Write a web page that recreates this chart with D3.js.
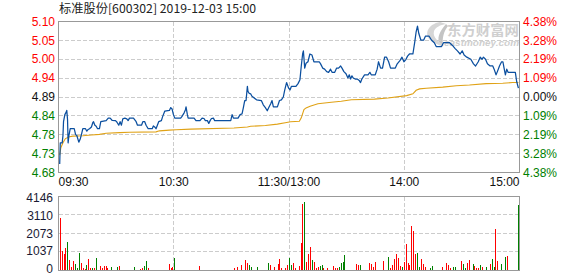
<!DOCTYPE html>
<html>
<head>
<meta charset="utf-8">
<script src="https://cdn.jsdelivr.net/npm/d3@7"></script>
<style>
  html, body { margin: 0; padding: 0; background: #fff; }
  svg { display: block; }
  text { font-family: "Liberation Sans", Arial, sans-serif; }
</style>
</head>
<body>
<svg width="578" height="276"></svg>
<script>
const svg_ = d3.select('svg');

const W = 578;
const H = 276;

// price panel / volume panel boxes
const P = { L: 58.5, R: 519.5, T: 21.5, B: 172.5 };
const V = { T: 196.5, B: 270.5 };

const TITLE = "标准股份[600302] 2019-12-03 15:00";

const prevClose = 4.89;
const pctMax = 4.38;

// tick rows, bottom to top
const priceTicks = ["4.68", "4.73", "4.78", "4.84", "4.89", "4.94", "5.00", "5.05", "5.10"];
const pctTicks = ["4.38%", "3.28%", "2.19%", "1.09%", "0.00%", "1.09%", "2.19%", "3.28%", "4.38%"];
const volTicks = [0, 1037, 2073, 3110, 4146];

const timeLabels = ["09:30", "10:30", "11:30/13:00", "14:00", "15:00"];
const timeIdx = [0, 60, 120, 180, 240];

// [minute index, price]
const priceLine = [
  [0,4.70],[0.3,4.76],[1.3,4.76],[1.7,4.78],[2,4.82],[2.7,4.84],[3.4,4.847],[3.7,4.852],[4.1,4.826],[4.4,4.76],
  [4.8,4.78],[5.5,4.80],[7.6,4.80],[8.3,4.784],[9,4.78],[10,4.762],[10.7,4.77],[11.4,4.784],[12.1,4.80],[13.5,4.80],
  [14.2,4.793],[14.9,4.798],[15.6,4.80],[16.6,4.805],[17.3,4.817],[17.7,4.82],[18.4,4.81],[19.1,4.807],[19.8,4.80],[20.8,4.80],
  [21.5,4.82],[24.3,4.823],[25.4,4.83],[26.4,4.83],[27.4,4.824],[29.2,4.823],[29.9,4.819],[30.9,4.81],[31.6,4.82],[32.3,4.81],
  [33,4.828],[34.1,4.83],[35.1,4.828],[35.8,4.823],[36.5,4.83],[38.6,4.83],[40,4.82],[40.7,4.81],[42.8,4.81],[43.5,4.82],
  [44.5,4.82],[45.2,4.81],[46.3,4.80],[48.4,4.80],[49,4.808],[49.7,4.805],[50.4,4.80],[51.1,4.81],[51.8,4.82],[53.2,4.823],
  [53.9,4.835],[55,4.85],[57.4,4.852],[58.1,4.86],[58.8,4.856],[59.5,4.84],[60.2,4.83],[63.3,4.83],[64,4.835],[65.1,4.845],
  [65.8,4.854],[66.1,4.862],[66.8,4.84],[67.2,4.83],[70.3,4.83],[71.3,4.823],[73.4,4.823],[74.5,4.83],[75.5,4.829],[76.2,4.823],
  [77.3,4.823],[78,4.815],[78.7,4.823],[79.4,4.829],[80.4,4.83],[81.1,4.823],[89.5,4.823],[90.2,4.84],[90.9,4.83],[93.3,4.83],
  [94.4,4.84],[95.4,4.842],[96.1,4.86],[96.8,4.88],[97.5,4.88],[98.2,4.92],[98.5,4.906],[99.2,4.90],[99.9,4.899],[100.6,4.892],
  [103,4.882],[105.5,4.88],[106.5,4.868],[107.6,4.86],[108.6,4.851],[109.4,4.86],[110.4,4.871],[111.1,4.88],[111.8,4.862],[113.9,4.862],
  [115,4.88],[116,4.882],[117,4.89],[117.7,4.909],[118.7,4.931],[119.8,4.915],[120.5,4.91],[121.2,4.92],[123.6,4.92],[124.7,4.928],
  [125.7,4.939],[126.4,4.978],[127.1,5.012],[127.5,5.021],[128.2,4.972],[128.9,4.986],[129.9,4.99],[130.9,5.012],[132,5.009],[133,4.99],
  [135.8,4.99],[136.5,4.984],[137.6,4.972],[138.6,4.969],[139.7,4.962],[140.7,4.96],[141.7,4.969],[142.5,4.96],[143.9,4.96],[144.9,4.972],
  [145.9,4.972],[147,4.978],[147.7,4.972],[148.7,4.962],[149.8,4.956],[150.8,4.944],[151.5,4.953],[152.2,4.941],[152.9,4.95],[153.6,4.944],
  [154.6,4.941],[155.7,4.941],[156.7,4.937],[157.4,4.931],[158.1,4.941],[159.5,4.953],[161.3,4.953],[162.3,4.96],[163,4.953],[165.1,4.953],
  [166.1,4.969],[166.8,4.99],[167.9,4.972],[168.9,4.972],[170,5.003],[171,5.003],[172.1,4.99],[173.1,4.972],[175.6,4.972],[176.6,4.984],
  [178,4.993],[179.1,5.003],[180.1,4.99],[181.2,4.997],[182,5.006],[183,5.012],[184.8,5.012],[185.8,5.047],[186.5,5.075],[187.2,5.091],
  [187.9,5.07],[189,5.051],[190.4,5.051],[191.4,5.063],[193.2,5.063],[194.6,5.051],[196,5.044],[197,5.033],[199.8,5.033],[200.8,5.044],
  [204,5.044],[205.4,5.037],[206.8,5.028],[208.1,5.021],[209.5,5.012],[210.6,5.021],[211.6,5.009],[213,5.003],[215.1,4.997],[216.5,4.984],
  [217.6,4.978],[219,4.99],[220,5.003],[221,4.997],[221.7,5.003],[222.8,4.997],[223.8,4.984],[225.2,4.978],[226.6,4.978],[227.3,4.969],
  [228.3,4.953],[229,4.962],[230.1,4.978],[231.2,4.99],[231.9,4.99],[232.5,4.972],[233.2,4.953],[233.9,4.969],[234.6,4.96],[238.4,4.96],
  [239.1,4.934],[240,4.915]
];

// [minute index, average price]
const avgLine = [
  [0,4.725],[0.6,4.746],[1.7,4.76],[3,4.772],[5.1,4.777],[6.9,4.779],[12.1,4.78],[16.6,4.782],[20.8,4.784],[24.3,4.787],
  [31.3,4.789],[36.5,4.79],[50.4,4.791],[52.2,4.794],[57.4,4.796],[60.9,4.797],[68.6,4.799],[91.2,4.802],[98.2,4.805],[99.9,4.807],
  [107.6,4.809],[113.9,4.813],[118,4.817],[120.8,4.82],[125.4,4.821],[126.4,4.831],[127.8,4.854],[128.9,4.859],[131,4.864],[135.1,4.871],
  [142.1,4.875],[147.3,4.878],[152.6,4.882],[164.7,4.884],[171.7,4.887],[181.5,4.894],[184.8,4.899],[186.5,4.909],[188.3,4.913],[191.8,4.915],
  [200.4,4.918],[207.5,4.922],[214.4,4.924],[223.1,4.928],[231.8,4.929],[237,4.931],[240,4.931]
];

// volume per minute (lots), 09:30 .. 11:30 then 13:01 .. 15:00
const volAM = [
  2945, 1070, 920, 1257, 1595, 563, 188, 507, 338, 131,
  957, 394, 131, 94, 281, 619, 131, 131, 131, 675,
  56, 225, 131, 225, 225, 113, 0, 169, 56, 56,
  169, 225, 56, 0, 56, 56, 56, 56, 56, 169,
  56, 56, 75, 131, 225, 507, 113, 56, 56, 56,
  56, 56, 56, 56, 56, 56, 56, 338, 131, 188,
  694, 56, 0, 56, 56, 56, 56, 56, 56, 0,
  56, 56, 56, 244, 56, 56, 0, 56, 56, 56,
  56, 56, 56, 56, 56, 56, 56, 56, 0, 56,
  56, 113, 56, 188, 56, 281, 56, 563, 394, 281,
  169, 56, 0, 169, 56, 56, 56, 56, 56, 394,
  281, 56, 169, 56, 338, 619, 113, 56, 113, 281, 694
];
const dirAM =
  "rrrrgrrrgg" + "grrrgrrgrg" + "rrrrrrrgrr" + "grgggrrrrg" + "rrrrggrrrg" +
  "rrrrrrrrrr" + "gggrrrrggg" + "rrrrrrrgrr" + "grgrrrrrrr" + "rrrrrrrrrg" +
  "grrgrrgrgg" + "rrrgrrrrrrg";

const volPM = [
  281, 394, 113, 56, 225, 1538, 3715, 3827, 450, 900,
  1294, 563, 450, 113, 169, 225, 281, 113, 56, 113,
  56, 56, 225, 113, 113, 169, 394, 450, 844, 56,
  56, 56, 56, 0, 338, 281, 281, 56, 56, 56,
  56, 394, 338, 169, 450, 56, 56, 56, 507, 56,
  56, 732, 113, 281, 619, 900, 675, 225, 169, 450,
  1463, 394, 281, 2476, 2195, 900, 957, 169, 619, 338,
  169, 56, 56, 113, 225, 56, 0, 56, 56, 169,
  56, 394, 281, 113, 56, 169, 169, 56, 56, 507,
  338, 113, 394, 563, 56, 338, 225, 113, 113, 281,
  169, 56, 169, 56, 338, 619, 169, 2307, 507, 56,
  338, 56, 732, 788, 0, 0, 0, 0, 0, 3658
];
const dirPM =
  "grrrrrrgrr" + "rgrrrggrgr" + "grrrrggggg" + "grggrrgrrr" + "rrrrrgrrrg" +
  "rgrrrrrrgr" + "rrrrrrggrr" + "rrrgggrrrr" + "grrrgggrrr" + "ggrrggrrrg" +
  "rggrrggrrr" + "grgrgggggg";

const RED = "#ff0000";
const GREEN = "#008000";
const DARK = "#111";

const volume = volAM.concat(volPM);
const dirs = (dirAM + dirPM).split("");

// scales
const x = d3.scaleLinear().domain([0, 240]).range([59.7, 518.4]);
const gx = d3.scaleLinear().domain([0, 240]).range([P.L, P.R]);
const y = d3.scaleLinear()
  .domain([prevClose * (1 - pctMax / 100), prevClose * (1 + pctMax / 100)])
  .range([P.B, P.T]);
const row = d3.scaleLinear().domain([0, 8]).range([P.B, P.T]);
const yv = d3.scaleLinear().domain([0, 4146]).range([V.B, V.T]);
// volume labels sit a bit inside the panel
const vlab = d3.scaleLinear().domain([0, 4]).range([269, 198]);

const half = v => Math.round(v - 0.5) + 0.5;

svg_.append("rect").attr("width", W).attr("height", H).attr("fill", "#fff");

// title
svg_.append("text")
  .attr("x", 59).attr("y", 13)
  .attr("font-size", 12)
  .attr("fill", "#222")
  .style("font-family", '"Noto Sans CJK SC", sans-serif')
  .attr("textLength", 197)
  .attr("lengthAdjust", "spacingAndGlyphs")
  .text(TITLE);

// watermark
const wm = svg_.append("g").attr("fill", "#cfcfcf");
wm.append("path")
  .attr("d", "M440,22 C428,24 424,34 430,40 C433,43 438,44 441,46 L444,46 C440,42 432,38 434,31 C436,27 440,25 446,24 Z")
  .attr("fill", "#d6d6d6");
wm.append("path")
  .attr("d", "M446,24 C441,30 437,36 439,42 L443,45 C442,38 444,31 448,26 Z")
  .attr("fill", "#c4c4c4");
wm.append("text")
  .attr("x", 447).attr("y", 35)
  .attr("font-size", 14).attr("font-weight", "bold")
  .style("font-family", '"Noto Sans CJK SC", sans-serif')
  .attr("textLength", 72).attr("lengthAdjust", "spacingAndGlyphs")
  .text("东方财富网");
wm.append("text")
  .attr("x", 444).attr("y", 46)
  .attr("font-size", 8.5).attr("font-weight", "bold").attr("font-style", "italic")
  .attr("textLength", 75).attr("lengthAdjust", "spacingAndGlyphs")
  .text("eastmoney.com");

// grids
const grid = svg_.append("g")
  .attr("stroke", "#cccccc")
  .attr("stroke-dasharray", "4,2")
  .attr("shape-rendering", "crispEdges");

grid.selectAll("line.h")
  .data(d3.range(1, 8))
  .join("line")
  .attr("x1", P.L).attr("x2", P.R)
  .attr("y1", d => half(row(d))).attr("y2", d => half(row(d)));

grid.selectAll("line.hv")
  .data([1, 2, 3].map(d => yv(volTicks[d])))
  .join("line")
  .attr("x1", P.L).attr("x2", P.R)
  .attr("y1", d => half(d)).attr("y2", d => half(d));

[[P.T, P.B], [V.T, V.B]].forEach(([t, b]) => {
  svg_.append("g")
    .attr("stroke", "#cccccc")
    .attr("stroke-dasharray", "4,2")
    .attr("shape-rendering", "crispEdges")
    .selectAll("line")
    .data([60, 120, 180])
    .join("line")
    .attr("x1", d => half(gx(d))).attr("x2", d => half(gx(d)))
    .attr("y1", t).attr("y2", b);
});

// volume bars
svg_.append("g")
  .attr("shape-rendering", "crispEdges")
  .selectAll("rect")
  .data(volume)
  .join("rect")
  .attr("x", (d, i) => Math.round(x(i)) - 0.5)
  .attr("width", 1.2)
  .attr("y", d => yv(d))
  .attr("height", d => V.B - yv(d))
  .attr("fill", (d, i) => dirs[i] === "g" ? GREEN : RED);

// lines
const line = d3.line().x(d => x(d[0])).y(d => y(d[1]));

svg_.append("path")
  .attr("d", line(avgLine))
  .attr("fill", "none")
  .attr("stroke", "#e0a216")
  .attr("stroke-width", 1.1);

svg_.append("path")
  .attr("d", line(priceLine))
  .attr("fill", "none")
  .attr("stroke", "#0b4f9f")
  .attr("stroke-width", 1.25)
  .attr("stroke-linejoin", "round");

// frames
[[P.T, P.B], [V.T, V.B]].forEach(([t, b]) => {
  svg_.append("rect")
    .attr("x", P.L).attr("y", t)
    .attr("width", P.R - P.L).attr("height", b - t)
    .attr("fill", "none")
    .attr("stroke", "#999")
    .attr("shape-rendering", "crispEdges");
});

// price labels left
const tickColor = i => i > 4 ? RED : (i < 4 ? GREEN : DARK);

svg_.append("g")
  .selectAll("text")
  .data(priceTicks)
  .join("text")
  .attr("x", 55)
  .attr("y", (d, i) => row(i))
  .attr("dy", "0.35em")
  .attr("text-anchor", "end")
  .attr("font-size", 12)
  .attr("fill", (d, i) => tickColor(i))
  .text(d => d);

// percent labels right
svg_.append("g")
  .selectAll("text")
  .data(pctTicks)
  .join("text")
  .attr("x", 523)
  .attr("y", (d, i) => row(i))
  .attr("dy", "0.35em")
  .attr("font-size", 12)
  .attr("fill", (d, i) => tickColor(i))
  .text(d => d);

// volume labels
svg_.append("g")
  .selectAll("text")
  .data(volTicks)
  .join("text")
  .attr("x", 53)
  .attr("y", (d, i) => vlab(i))
  .attr("dy", "0.35em")
  .attr("text-anchor", "end")
  .attr("font-size", 12)
  .attr("fill", "#1a1a33")
  .text(d => d);

// time labels
svg_.append("g")
  .selectAll("text")
  .data(timeLabels)
  .join("text")
  .attr("x", (d, i) => i === 0 ? P.L : (i === timeLabels.length - 1 ? P.R : gx(timeIdx[i])))
  .attr("y", 182)
  .attr("dy", "0.35em")
  .attr("text-anchor", (d, i) => i === 0 ? "start" : (i === timeLabels.length - 1 ? "end" : "middle"))
  .attr("font-size", 12)
  .attr("fill", DARK)
  .text(d => d);
</script>
</body>
</html>
